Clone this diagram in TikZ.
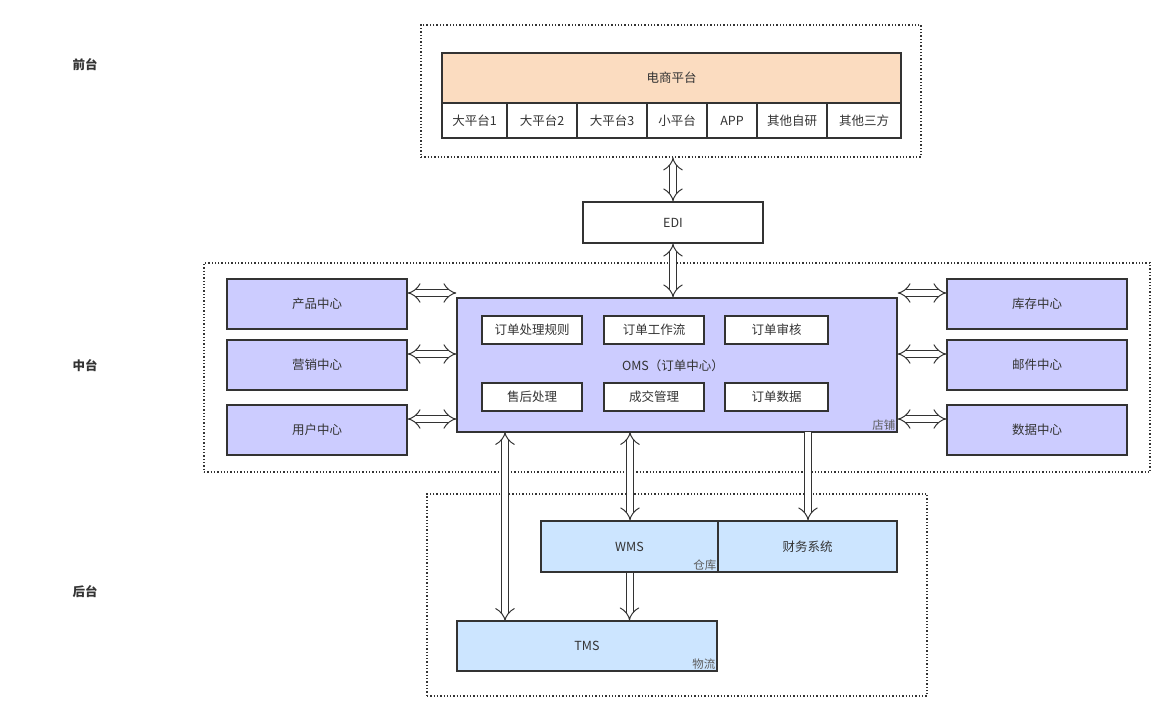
\documentclass[tikz,border=0pt]{standalone}
\usepackage{fontspec}
\setmainfont{Noto Sans CJK SC}
\usetikzlibrary{arrows.meta}
\definecolor{peach}{HTML}{FBDCC0}
\definecolor{lav}{HTML}{CCCCFF}
\definecolor{lblue}{HTML}{CCE5FF}
\definecolor{ln}{HTML}{333333}
\begin{document}
\begin{tikzpicture}[x=1pt,y=-1pt,
  box/.style={draw=ln,line width=1.3pt,inner sep=0pt,font=\fontsize{12.5}{14}\selectfont,text=ln},
  dbox/.style={draw=ln,line width=1.3pt,dotted,inner sep=0pt},
  darr/.style={draw=ln,line width=1pt,double=white,double distance=6pt,{Implies}-{Implies}},
  sarr/.style={draw=ln,line width=1pt,double=white,double distance=6pt,-{Implies}},
  side/.style={font=\fontsize{12.5}{14}\selectfont\bfseries,text=ln},
  tag/.style={font=\fontsize{11.5}{13}\selectfont,text=ln!80,anchor=south east,inner sep=2pt}]
\useasboundingbox (0,0) rectangle (1175,722);
\node[side] (l1) at (85,65) {前台};
\node[side] (l2) at (85,366) {中台};
\node[side] (l3) at (85,592) {后台};
% front
\node[dbox,minimum width=500,minimum height=132] (front) at (671,91) {};
\node[box,fill=peach,minimum width=459,minimum height=50] (ec) at (671.5,78) {电商平台};
\foreach \n/\c/\w/\t in {c1/474.5/65/大平台1,c2/542/70/大平台2,c3/612/70/大平台3,c4/677/60/小平台,c5/732/50/APP,c6/792/70/其他自研,c7/864/74/其他三方}
  \node[box,minimum width=\w,minimum height=35] (\n) at (\c,120.5) {\t};
\node[box,minimum width=180,minimum height=41] (edi) at (673,222.5) {EDI};
% middle
\node[dbox,minimum width=946,minimum height=209] (mid) at (677,367.5) {};
\node[box,fill=lav,minimum width=440,minimum height=134] (oms) at (677,365) {};
\node[box,draw=none] (omst) at (673,366) {OMS（订单中心）};
\node[tag] (dp) at (oms.south east) {店铺};
\foreach \n/\c/\w/\y/\t in {o1/532/100/330/订单处理规则,o2/654/100/330/订单工作流,o3/776.5/103/330/订单审核,o4/532/100/397/售后处理,o5/654/100/397/成交管理,o6/776.5/103/397/订单数据}
  \node[box,fill=white,minimum width=\w,minimum height=28] (\n) at (\c,\y) {\t};
\foreach \n/\y/\t in {a/304/产品中心,b/365/营销中心,c/430/用户中心}
  \node[box,fill=lav,minimum width=180,minimum height=50] (L\n) at (317,\y) {\t};
\foreach \n/\y/\t in {a/304/库存中心,b/365/邮件中心,c/430/数据中心}
  \node[box,fill=lav,minimum width=180,minimum height=50] (R\n) at (1037,\y) {\t};
% back
\node[dbox,minimum width=500,minimum height=202] (back) at (677,595) {};
\node[box,fill=lblue,minimum width=177,minimum height=51] (wms) at (629.5,546.5) {WMS};
\node[tag] (ck) at (wms.south east) {仓库};
\node[box,fill=lblue,minimum width=179,minimum height=51] (fin) at (807.5,546.5) {财务系统};
\node[box,fill=lblue,minimum width=260,minimum height=50] (tms) at (587,646) {TMS};
\node[tag] (wl) at (tms.south east) {物流};
% arrows
\coordinate (fb) at (673,157.5);
\draw[darr] (fb) -- (edi.north);
\draw[darr] (edi.south) -- (edi.south |- oms.north);
\foreach \n in {a,b,c}{
  \draw[darr] ([yshift=11]L\n.east) -- ([yshift=11]L\n.east -| oms.west);
  \draw[darr] ([yshift=11]R\n.west) -- ([yshift=11]R\n.west -| oms.east);
}
\coordinate (t1) at (505,432);
\coordinate (t2) at (505,621);
\draw[darr] (t1) -- (t2);
\coordinate (w1) at (630,432);
\draw[darr] (w1) -- (w1 |- wms.north);
\coordinate (f1) at (808,432);
\draw[sarr] (f1) -- (f1 |- fin.north);
\draw[sarr] (wms.south) -- (wms.south |- tms.north);
\end{tikzpicture}
\end{document}
